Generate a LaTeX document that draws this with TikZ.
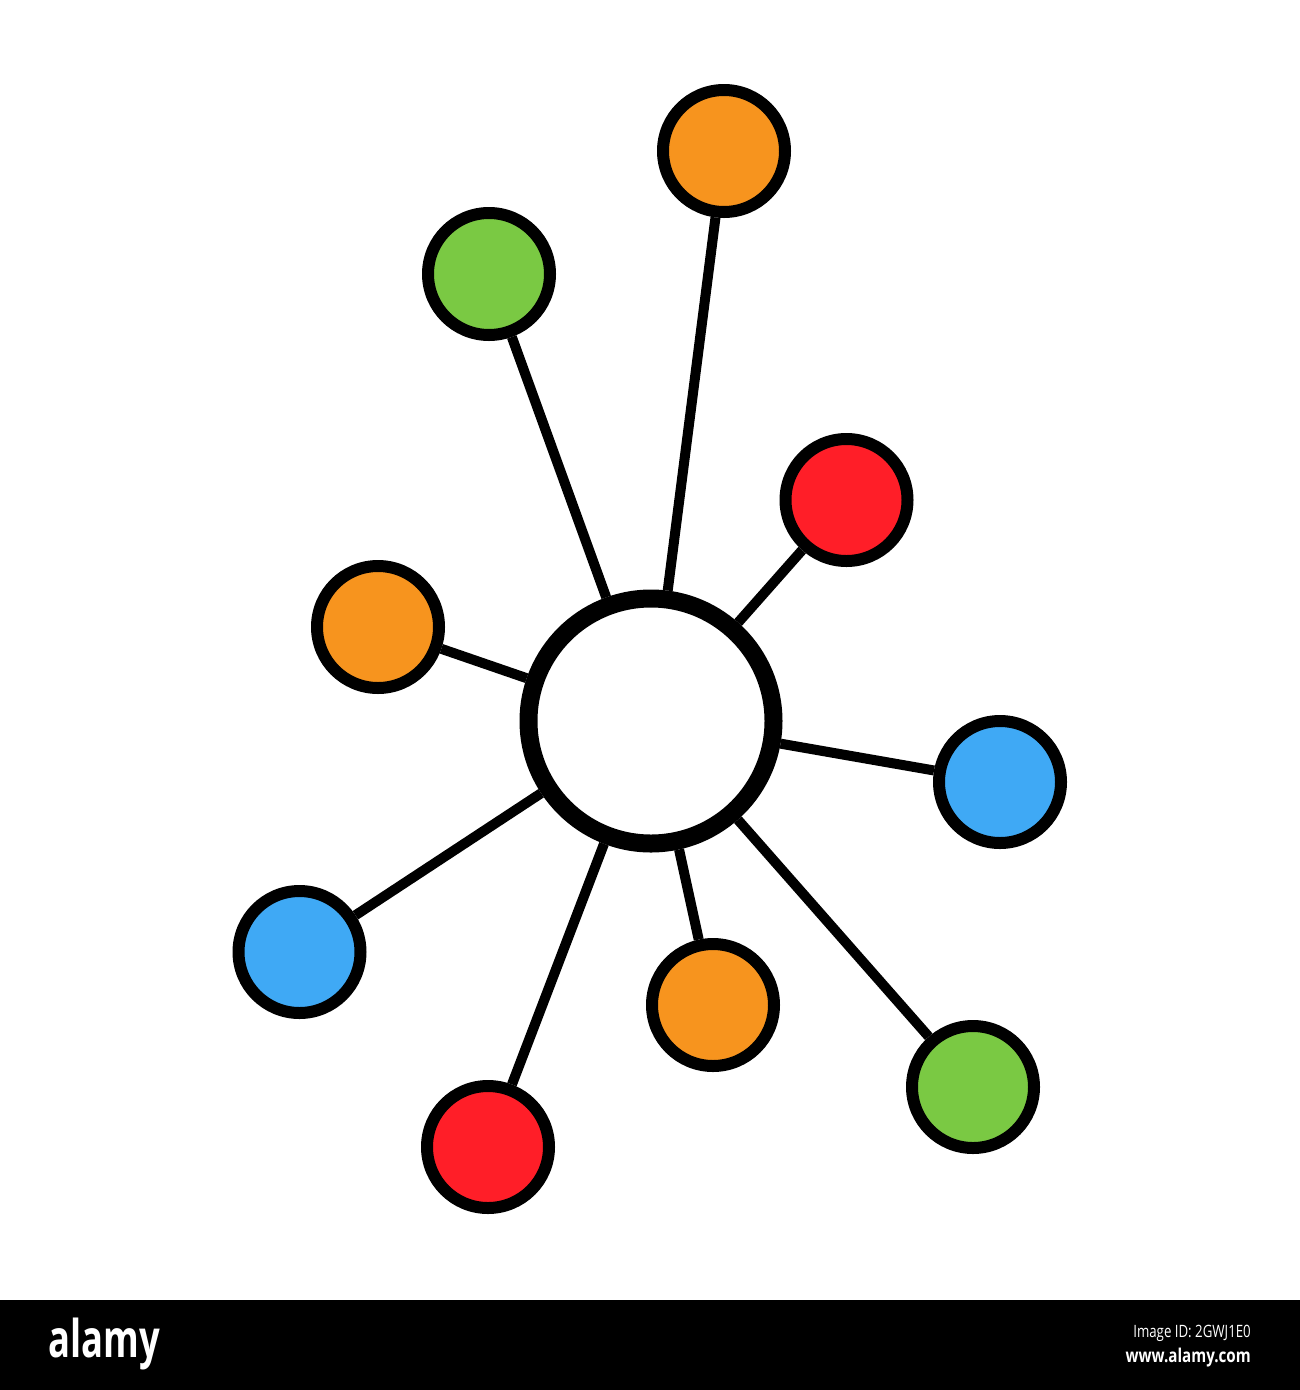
\documentclass[tikz,border=0pt]{standalone}
\usepackage{fontspec}
\setmainfont{Open Sans}
\definecolor{corange}{RGB}{247,148,30}
\definecolor{cgreen}{RGB}{122,201,67}
\definecolor{cred}{RGB}{255,30,40}
\definecolor{cblue}{RGB}{63,169,245}
\begin{document}
\begin{tikzpicture}[x=1pt,y=-1pt,
  leaf/.style={circle,draw=black,line width=12pt,minimum size=122pt,inner sep=0pt},
  hub/.style={circle,draw=black,fill=white,line width=18pt,minimum size=245pt,inner sep=0pt},
  link/.style={draw=black,line width=10pt}]
\useasboundingbox (0,0) rectangle (1300,1390);
\fill[white] (0,0) rectangle (1300,1300);
\fill[black] (0,1300) rectangle (1300,1390);
\node[hub] (c) at (651,721) {};
\node[leaf,fill=corange] (o1) at (724,151) {};
\node[leaf,fill=cgreen] (g1) at (489,274) {};
\node[leaf,fill=cred] (r1) at (846.5,500) {};
\node[leaf,fill=corange] (o2) at (378,627) {};
\node[leaf,fill=cblue] (b1) at (1000,782) {};
\node[leaf,fill=cblue] (b2) at (299.5,952) {};
\node[leaf,fill=corange] (o3) at (713,1005) {};
\node[leaf,fill=cgreen] (g2) at (973,1087) {};
\node[leaf,fill=cred] (r2) at (488,1147) {};
\foreach \n in {o1,g1,r1,o2,b1,b2,o3,g2,r2} \draw[link] (c) -- (\n);
\node[text=white,font=\bfseries\fontsize{52}{52}\selectfont,anchor=west,inner sep=0pt] (logo) at (48,1344) {\scalebox{0.7}[1]{alamy}};
\node[text=white,font=\fontsize{17}{17}\selectfont,anchor=east,inner sep=0pt] (imgid) at (1251,1333) {\scalebox{0.78}[1]{Image ID: 2GWJ1E0}};
\node[text=white,font=\bfseries\fontsize{19}{19}\selectfont,anchor=east,inner sep=0pt] (www) at (1251,1358) {\scalebox{0.8}[1]{www.alamy.com}};
\end{tikzpicture}
\end{document}
